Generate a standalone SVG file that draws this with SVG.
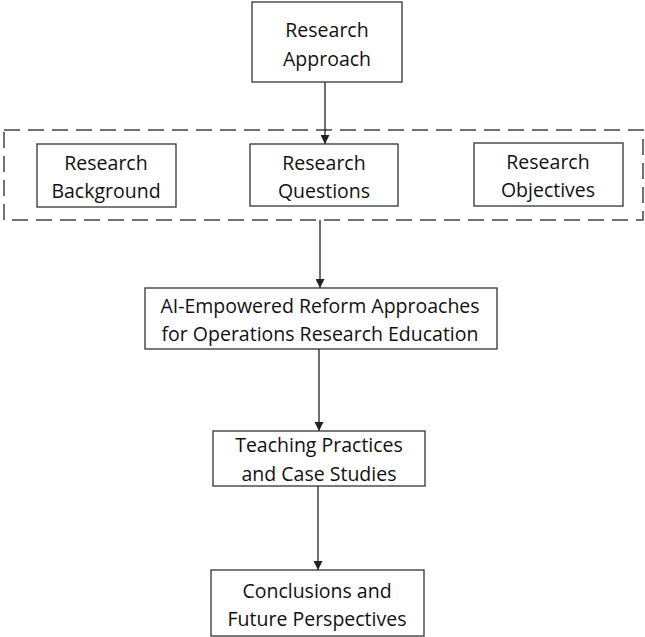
<svg xmlns="http://www.w3.org/2000/svg" width="645" height="637" viewBox="0 0 645 637">
<defs>
<marker id="arr" viewBox="0 0 10 10" refX="10" refY="5" markerWidth="9" markerHeight="9" markerUnits="userSpaceOnUse" orient="auto">
<path d="M0,0 L10,5 L0,10 Z" fill="#222"/>
</marker>
</defs>
<style>
.box{fill:#fff;stroke:#333;stroke-width:1.3}
.dash{fill:none;stroke:#444;stroke-width:1.5;stroke-dasharray:16 8}
.t{font-family:"Open Sans","Noto Sans",sans-serif;font-size:19.5px;fill:#111;text-anchor:middle}
.c{stroke:#222;stroke-width:1.3;fill:none;marker-end:url(#arr)}
</style>
<rect width="645" height="637" fill="#fff"/>
<g id="group-box"><rect class="dash" x="4" y="130" width="639" height="90"/></g>
<g id="connectors">
<line class="c" x1="325" y1="82" x2="325" y2="144"/>
<line class="c" x1="320" y1="220" x2="320" y2="288"/>
<line class="c" x1="319" y1="349" x2="319" y2="431"/>
<line class="c" x1="318" y1="486" x2="318" y2="570"/>
</g>
<g id="approach"><rect class="box" x="252" y="2" width="150" height="80"/>
<text class="t" x="327" y="37">Research</text><text class="t" x="327" y="66">Approach</text></g>
<g id="background"><rect class="box" x="37" y="144" width="139" height="63"/>
<text class="t" x="106" y="170">Research</text><text class="t" x="106" y="198">Background</text></g>
<g id="questions"><rect class="box" x="250" y="144" width="148" height="62"/>
<text class="t" x="324" y="170">Research</text><text class="t" x="324" y="198">Questions</text></g>
<g id="objectives"><rect class="box" x="474" y="143" width="149" height="63"/>
<text class="t" x="548" y="169">Research</text><text class="t" x="548" y="197">Objectives</text></g>
<g id="reform"><rect class="box" x="145" y="288" width="352" height="61"/>
<text class="t" x="320" y="313">AI-Empowered Reform Approaches</text><text class="t" x="320" y="341">for Operations Research Education</text></g>
<g id="teaching"><rect class="box" x="213" y="431" width="212" height="55"/>
<text class="t" x="319" y="452">Teaching Practices</text><text class="t" x="319" y="481">and Case Studies</text></g>
<g id="conclusions"><rect class="box" x="211" y="570" width="213" height="66"/>
<text class="t" x="317" y="598">Conclusions and</text><text class="t" x="317" y="626">Future Perspectives</text></g>
</svg>
